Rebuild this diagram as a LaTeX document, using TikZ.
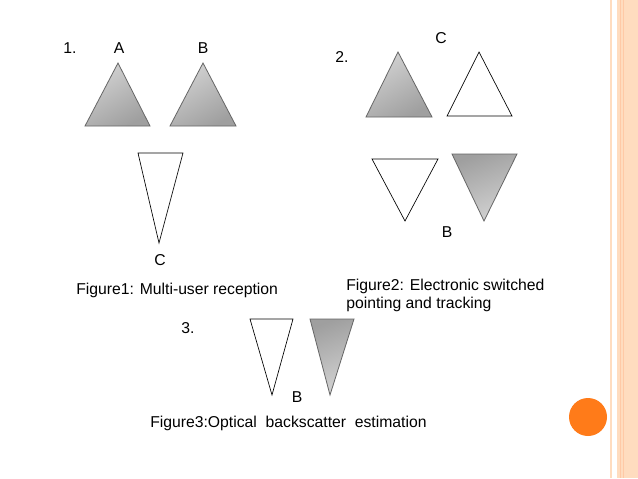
\documentclass[tikz,border=0pt]{standalone}
\usepackage{fontspec}
\setmainfont{Liberation Sans}
\begin{document}
\begin{tikzpicture}[x=0.75pt,y=-0.75pt,
  lbl/.style={font=\fontsize{11.8pt}{13.5pt}\selectfont,inner sep=0pt},
  figcap/.style={lbl,anchor=west,align=left},
  gtri/.style={draw=gray!80!black,line width=0.6pt,top color=gray!35,bottom color=gray!75,shading angle=30},
  wtri/.style={draw=black,line width=0.5pt,fill=white}]
\useasboundingbox (0,0) rectangle (638,478);
\fill[white] (0,0) rectangle (638,478);
% border
\fill[red!10!orange!25] (610,0) rectangle (612,478);
\fill[red!10!orange!25] (617,0) rectangle (638,478);
\fill[red!20!orange!35] (620,0) rectangle (621,478);
\fill[red!20!orange!35] (622.5,0) rectangle (623.5,478);
\node[circle,fill=orange!85!red!90,minimum size=28.5pt,inner sep=0pt] (dot) at (588,417) {};
% Figure 1
\node[lbl] (n1) at (70,48) {1.};
\node[lbl] (a1) at (119,48) {A};
\node[lbl] (b1) at (203,48) {B};
\draw[gtri] (118,63) -- (150,126) -- (85,126) -- cycle;
\draw[gtri] (203,63) -- (236,126) -- (170,126) -- cycle;
\draw[wtri] (138,153) -- (183,153) -- (159,243) -- cycle;
\node[lbl] (c1) at (160,260) {C};
\node[figcap] (f1) at (76,290) {Figure1: Multi-user reception};
% Figure 2
\node[lbl] (n2) at (342,57) {2.};
\node[lbl] (c2) at (441,38) {C};
\draw[gtri] (398,52) -- (432,117) -- (366,117) -- cycle;
\draw[wtri] (479,52) -- (512,116) -- (447,116) -- cycle;
\draw[wtri] (372,159) -- (438,159) -- (405,221) -- cycle;
\draw[gtri,shading angle=200] (452,154) -- (517,154) -- (484,221) -- cycle;
\node[lbl] (b2) at (447,232) {B};
\node[figcap] (f2) at (346,295) {Figure2: Electronic switched\\pointing and tracking};
% Figure 3
\node[lbl] (n3) at (188,328) {3.};
\draw[wtri] (250,319) -- (293,319) -- (272,395) -- cycle;
\draw[gtri,shading angle=200] (310,319) -- (354,319) -- (330,395) -- cycle;
\node[lbl] (b3) at (297,397) {B};
\node[figcap] (f3) at (150,423) {Figure3:Optical\ \ backscatter\ \ estimation};
\end{tikzpicture}
\end{document}
